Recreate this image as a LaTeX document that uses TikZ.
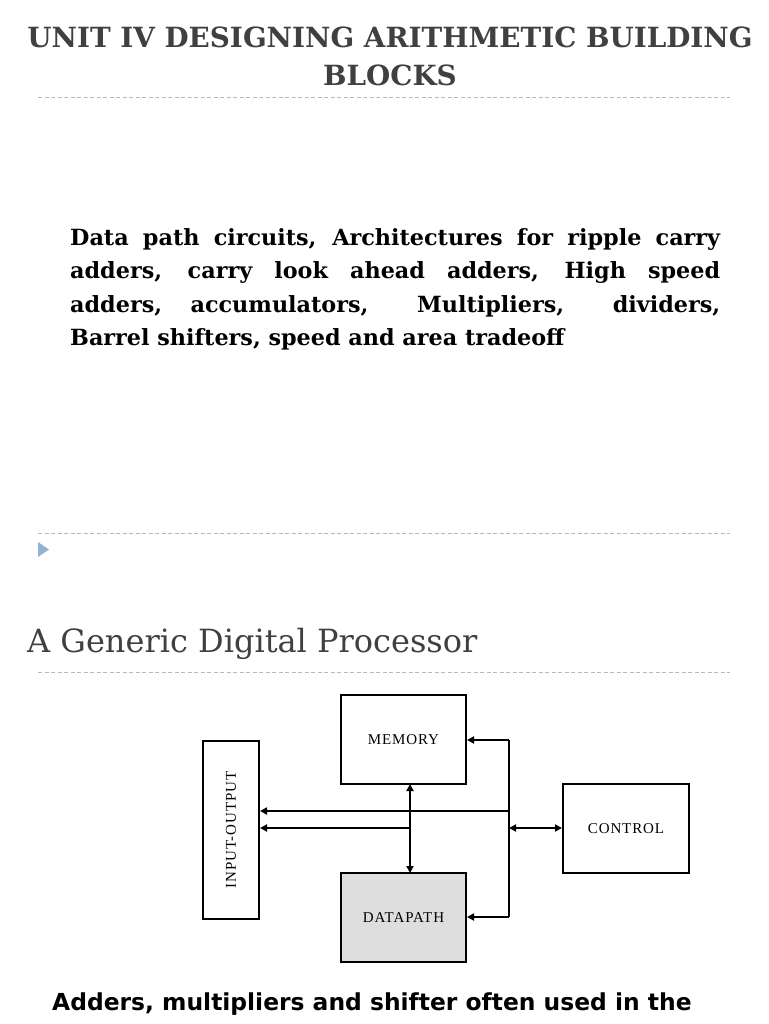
\documentclass[tikz,border=0pt]{standalone}
\usepackage{fontspec}
\setmainfont{DejaVu Serif}
\newfontfamily\lserif{Liberation Serif}[LetterSpace=6]
\newfontfamily\dsans{DejaVu Sans}
\usetikzlibrary{arrows.meta}
\definecolor{tgray}{HTML}{404040}
\definecolor{dgray}{HTML}{B8B8B8}
\definecolor{tri}{HTML}{94B2D2}
\tikzset{
  blk/.style={draw, line width=2pt, inner sep=0pt},
  lbl/.style={font=\lserif\fontsize{15}{17}\selectfont},
  conn/.style={line width=2pt, -{Triangle[length=7pt,width=7pt]}},
  dconn/.style={line width=2pt, {Triangle[length=7pt,width=7pt]}-{Triangle[length=7pt,width=7pt]}},
  sep/.style={dgray, dash pattern=on 4pt off 2.5pt, line width=0.7pt}
}
\begin{document}
\begin{tikzpicture}[x=1pt,y=-1pt]
\useasboundingbox (0,0) rectangle (768,1024);
\node[font=\bfseries\fontsize{27.8}{38}\selectfont, text=tgray, align=center] (title) at (390,56) {UNIT IV DESIGNING ARITHMETIC BUILDING\\BLOCKS};
\draw[sep] (38,97) -- (730,97);
\node[font=\bfseries\fontsize{22.3}{33.5}\selectfont, text width=650pt, align=justify, anchor=north west, inner sep=0pt] (body) at (70,228)
{Data path circuits, Architectures for ripple carry\linebreak adders, carry look ahead adders, High speed\linebreak adders, accumulators,\ \ Multipliers,\ \ dividers,\linebreak Barrel shifters,\ speed and area tradeoff\par};
\draw[sep] (38,533) -- (730,533);
\fill[tri] (38,542) -- (49,549.5) -- (38,557) -- cycle;
\node[font=\fontsize{32}{36}\selectfont, text=tgray, anchor=west, inner sep=0pt] (head) at (27,644) {A Generic Digital Processor};
\draw[sep] (38,672) -- (730,672);
% blocks
\node[blk, minimum width=125pt, minimum height=89pt, lbl] (mem) at (403.5,739.5) {MEMORY};
\node[blk, minimum width=125pt, minimum height=89pt, lbl, fill=black!13] (dp) at (403.5,917.5) {DATAPATH};
\node[blk, minimum width=56pt, minimum height=178pt] (io) at (231,830) {};
\node[lbl, rotate=90] (iol) at (231,830) {INPUT-OUTPUT};
\node[blk, minimum width=126pt, minimum height=89pt, lbl] (ctl) at (626,828.5) {CONTROL};
\coordinate (bt) at (509,740);
\coordinate (bb) at (509,917);
\coordinate (b1) at (509,811);
\coordinate (b2) at (509,828);
\coordinate (v2) at (410,828);
\draw[line width=2pt] (bt) -- (bb);
\draw[conn] (bt) -- (mem.east |- bt);
\draw[conn] (bb) -- (dp.east |- bb);
\draw[conn] (b1) -- (io.east |- b1);
\draw[conn] (v2) -- (io.east |- v2);
\draw[dconn] (410,784) -- (410,873);
\draw[dconn] (b2) -- (ctl.west |- b2);
\node[font=\dsans\bfseries\fontsize{23.4}{26}\selectfont, anchor=west, inner sep=0pt] (bot) at (52,1004) {Adders, multipliers and shifter often used in the};
\end{tikzpicture}
\end{document}
